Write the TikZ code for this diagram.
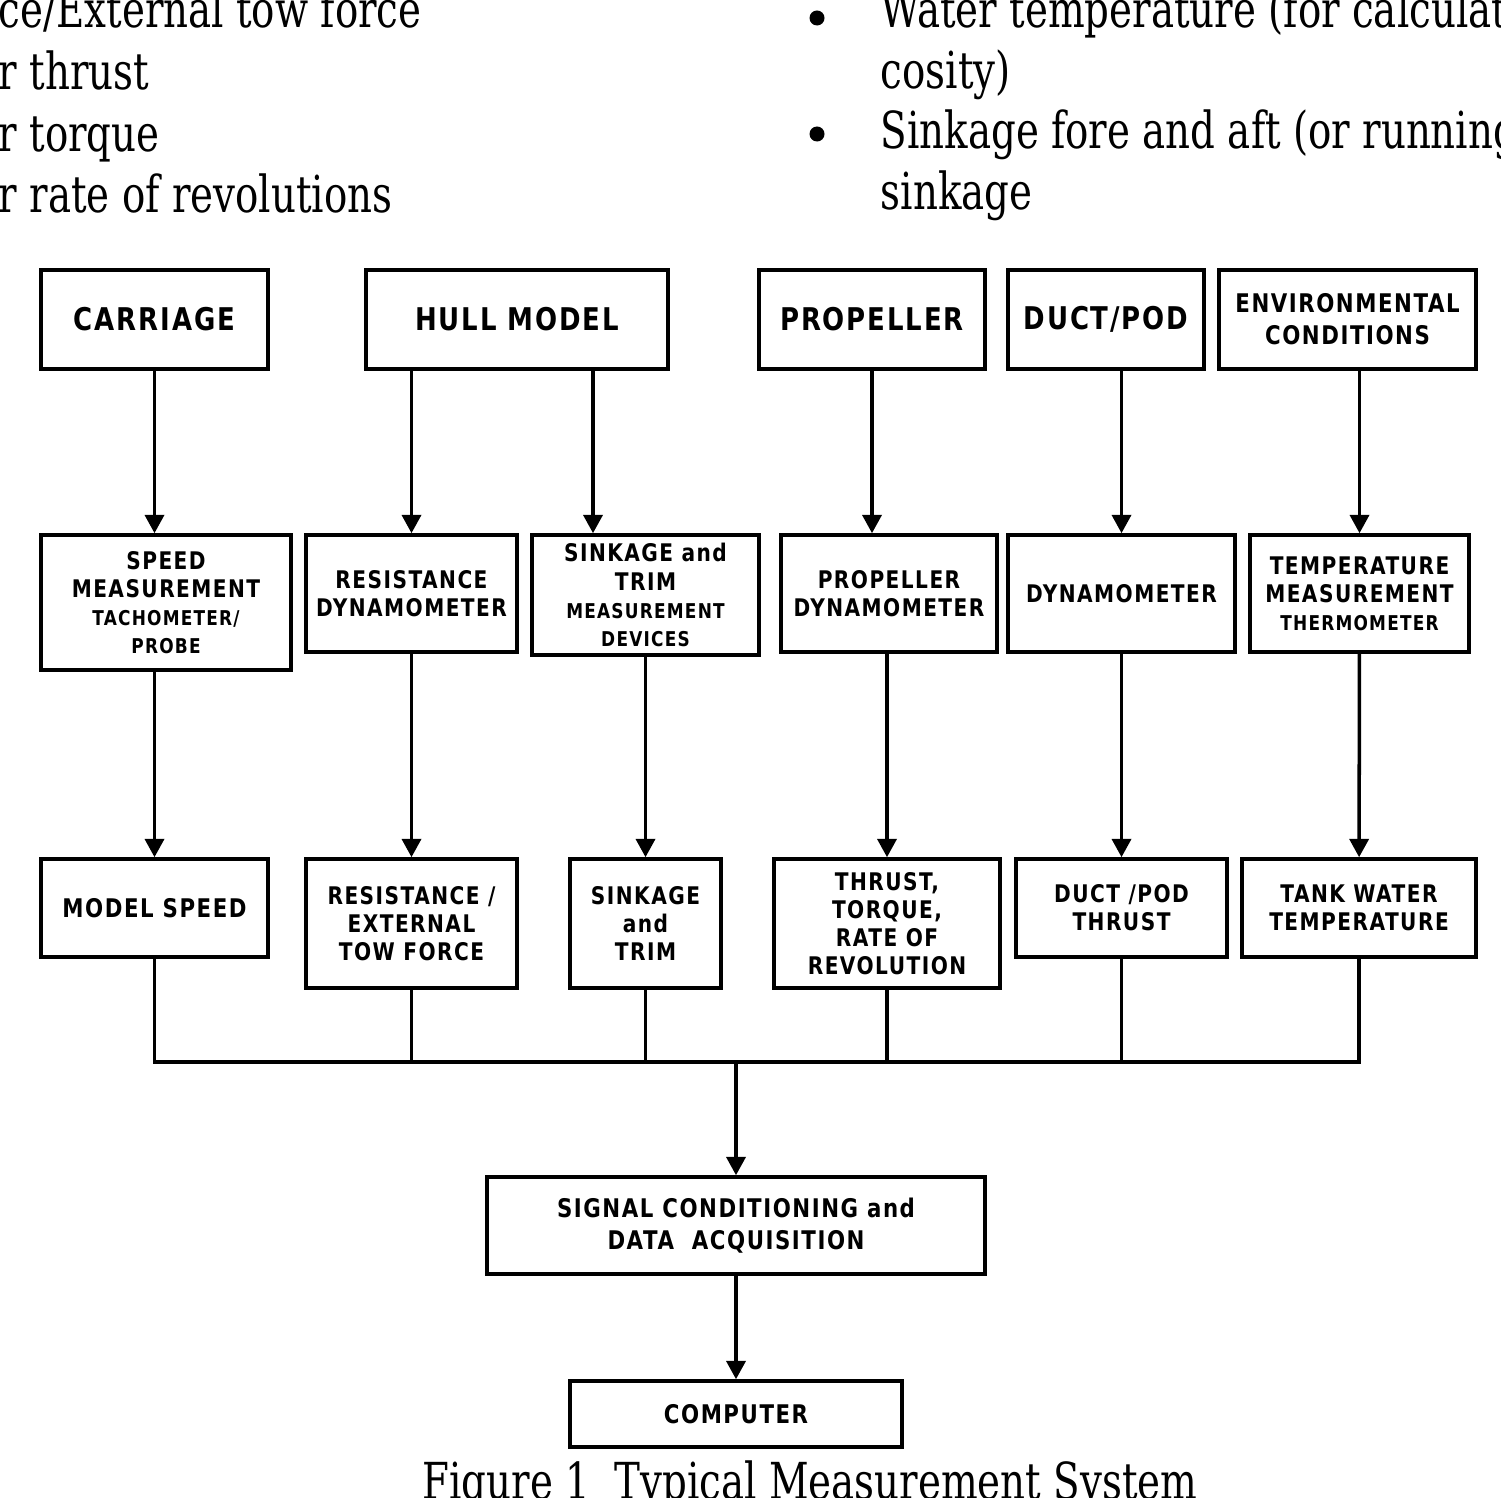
\documentclass[tikz,border=0pt]{standalone}
\usepackage{fontspec}
\usepackage{tikz}
\usetikzlibrary{positioning}
\usetikzlibrary{calc}
\usetikzlibrary{arrows.meta}
\newfontfamily\boxfont{DejaVu Sans}[FakeStretch=0.83,LetterSpace=6]
\newfontfamily\pagefont{DejaVu Serif}[FakeStretch=0.76]
\newcommand\smallsz{\fontsize{5.8}{7.4}\selectfont}
\tikzset{every picture/.style={line width=1pt,x=0.01cm,y=-0.01cm},
  blk/.style={draw,rectangle,inner sep=0pt,align=center},
  big/.style={font=\boxfont\bfseries\fontsize{8.9}{10.5}\selectfont},
  env/.style={font=\boxfont\bfseries\fontsize{7.3}{9.1}\selectfont},
  lrg/.style={font=\boxfont\bfseries\fontsize{7.3}{9.1}\selectfont},
  mid/.style={font=\boxfont\bfseries\fontsize{6.9}{8.0}\selectfont},
  arr/.style={-{Triangle[length=5.2pt,width=5.4pt]}},
  body/.style={font=\pagefont\fontsize{14.5}{17.5}\selectfont,inner sep=0pt}}

\begin{document}
\begin{tikzpicture}
\useasboundingbox (0,0) rectangle (1501,1497);
\clip (0,0) rectangle (1501,1497);
% page text around the figure
\foreach \txt [count=\i] in {ce/External tow force,r thrust,r torque,r rate of revolutions}
  \node[body,anchor=base west] (quant\i) at (-3,{28+61.5*(\i-1)}) {\txt};
\foreach \txt [count=\i] in {Water temperature (for calculat,cosity),Sinkage fore and aft (or running,sinkage}
  \node[body,anchor=base west] (extra\i) at (879,{28+60.5*(\i-1)}) {\txt};
\node[circle,fill,inner sep=0pt,minimum size=0.15cm] (dotA) at (817,18) {};
\node[circle,fill,inner sep=0pt,minimum size=0.15cm] (dotB) at (817,134) {};
\node[body,anchor=base] (caption) at (810,1499) {Figure 1\ \ Typical Measurement System};
% sources
\node[blk,big,minimum width=2.27cm,minimum height=0.99cm] (carriage) at (154.5,319.5) {CARRIAGE};
\node[blk,big,minimum width=3.02cm,minimum height=0.99cm] (hull) at (517,319.5) {HULL MODEL};
\node[blk,big,minimum width=2.26cm,minimum height=0.99cm] (prop) at (872,319.5) {PROPELLER};
\node[blk,big,minimum width=1.96cm,minimum height=0.99cm] (duct) at (1106,319.5) {DUCT/POD};
\node[blk,env,minimum width=2.57cm,minimum height=0.99cm] (envcond) at (1347.5,319.5) {ENVIRONMENTAL\\CONDITIONS};
% sensors
\node[blk,mid,minimum width=2.50cm,minimum height=1.35cm] (speedmeas) at (166,602.5) {SPEED\\MEASUREMENT\\\smallsz TACHOMETER/\\\smallsz PROBE};
\node[blk,mid,minimum width=2.11cm,minimum height=1.17cm] (resdyn) at (411.5,593.5) {RESISTANCE\\DYNAMOMETER};
\node[blk,mid,minimum width=2.27cm,minimum height=1.20cm] (sinkmeas) at (645.5,595) {SINKAGE and\\TRIM\\\smallsz MEASUREMENT\\\smallsz DEVICES};
\node[blk,mid,minimum width=2.16cm,minimum height=1.17cm] (propdyn) at (889,593.5) {PROPELLER\\DYNAMOMETER};
\node[blk,mid,minimum width=2.27cm,minimum height=1.17cm] (dynamo) at (1121.5,593.5) {DYNAMOMETER};
\node[blk,mid,minimum width=2.19cm,minimum height=1.17cm] (tempmeas) at (1359.5,593.5) {TEMPERATURE\\MEASUREMENT\\\smallsz THERMOMETER};
% measured quantities
\node[blk,lrg,minimum width=2.27cm,minimum height=0.98cm] (mspeed) at (154.5,908) {MODEL SPEED};
\node[blk,mid,minimum width=2.11cm,minimum height=1.29cm] (resext) at (411.5,923.5) {RESISTANCE /\\EXTERNAL\\TOW FORCE};
\node[blk,mid,minimum width=1.51cm,minimum height=1.29cm] (sinktrim) at (645.5,923.5) {SINKAGE\\and\\TRIM};
\node[blk,mid,minimum width=2.26cm,minimum height=1.29cm] (thrust) at (887,923.5) {THRUST,\\TORQUE,\\RATE OF\\REVOLUTION};
\node[blk,mid,minimum width=2.11cm,minimum height=0.98cm] (ductthrust) at (1121.5,908) {DUCT /POD\\THRUST};
\node[blk,mid,minimum width=2.34cm,minimum height=0.98cm] (tankwater) at (1359,908) {TANK WATER\\TEMPERATURE};
% acquisition
\node[blk,lrg,minimum width=4.98cm,minimum height=0.97cm] (signal) at (736,1225.5) {SIGNAL CONDITIONING and\\DATA\ \ ACQUISITION};
\node[blk,lrg,minimum width=3.32cm,minimum height=0.66cm] (computer) at (736,1414) {COMPUTER};
\coordinate (bus) at (736,1062);
% arrows
\draw[arr] (carriage) -- (carriage |- speedmeas.north);
\draw[arr] (resdyn |- hull.south) -- (resdyn);
\draw[arr] ($(hull.south)+(76,0)$) -- ($(hull.south |- sinkmeas.north)+(76,0)$);
\draw[arr] (prop) -- (prop |- propdyn.north);
\draw[arr] (dynamo |- duct.south) -- (dynamo);
\draw[arr] (tempmeas |- envcond.south) -- (tempmeas);
\draw[arr] (mspeed |- speedmeas.south) -- (mspeed);
\draw[arr] (resdyn) -- (resext);
\draw[arr] (sinkmeas) -- (sinktrim);
\draw[arr] (thrust |- propdyn.south) -- (thrust);
\draw[arr] (dynamo) -- (ductthrust);
\draw[arr] (tempmeas) -- (tankwater);
\draw (mspeed.south) -- (mspeed |- bus) -- (tankwater |- bus) -- (tankwater.south);
\foreach \n in {resext,sinktrim,thrust,ductthrust}
  \draw (\n.south) -- (\n |- bus);
\draw[arr] (bus) -- (signal);
\draw[arr] (signal) -- (computer);
\end{tikzpicture}
\end{document}
